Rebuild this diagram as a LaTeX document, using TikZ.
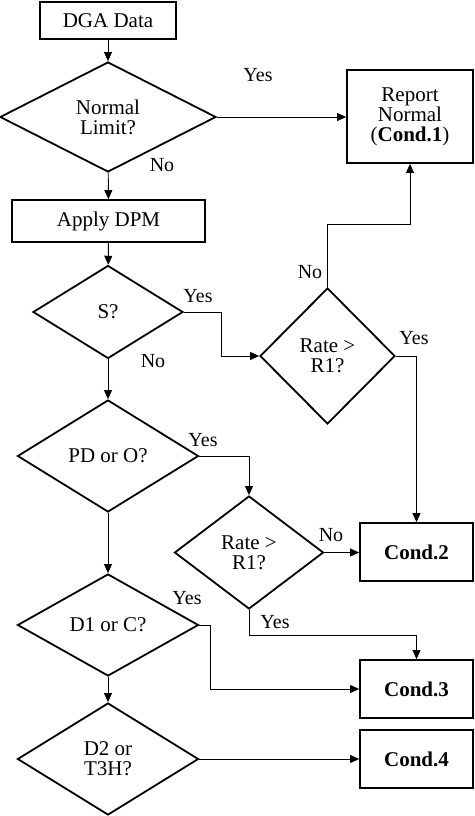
\documentclass[tikz,border=0pt]{standalone}
\usepackage{fontspec}
\setmainfont{Liberation Serif}
\usetikzlibrary{shapes.geometric,arrows.meta}
\tikzset{
  box/.style={draw,line width=1.8pt,rectangle,inner sep=0pt,align=center,font=\fontsize{21}{20}\selectfont},
  dia/.style={draw,line width=1.8pt,diamond,inner sep=0pt,align=center,font=\fontsize{21}{20}\selectfont},
  conn/.style={line width=0.9pt,-{Triangle[length=9pt,width=8pt]}},
  lbl/.style={font=\fontsize{20}{20}\selectfont,inner sep=0pt}
}
\begin{document}
\begin{tikzpicture}[x=1pt,y=-1pt]
\useasboundingbox (0,0) rectangle (474,816);
% nodes
\node[box,minimum width=136pt,minimum height=37pt] (dga) at (108,20.5) {DGA Data};
\node[dia,minimum width=216pt,minimum height=110pt] (nl) at (108,117) {Normal\\Limit?};
\node[box,minimum width=126pt,minimum height=93pt] (rep) at (410,116.5) {Report\\Normal\\(\textbf{Cond.1})};
\node[box,minimum width=193pt,minimum height=42pt] (dpm) at (108.5,221) {Apply DPM};
\node[dia,minimum width=150pt,minimum height=93pt] (s) at (108,312) {S?};
\node[dia,minimum width=135pt,minimum height=136pt] (r1) at (327.5,356) {Rate >\\R1?};
\node[dia,minimum width=181pt,minimum height=112pt] (pd) at (108,456) {PD or O?};
\node[dia,minimum width=149pt,minimum height=113pt] (r2) at (249,552.5) {Rate >\\R1?};
\node[box,minimum width=113pt,minimum height=58pt] (c2) at (416.5,552) {\textbf{Cond.2}};
\node[dia,minimum width=181pt,minimum height=102pt] (d1) at (108,625) {D1 or C?};
\node[box,minimum width=113pt,minimum height=58pt] (c3) at (416.5,689) {\textbf{Cond.3}};
\node[dia,minimum width=181pt,minimum height=112pt] (d2) at (108,759) {D2 or\\T3H?};
\node[box,minimum width=113pt,minimum height=58pt] (c4) at (416.5,759) {\textbf{Cond.4}};
% labels
\node[lbl] (y1) at (258,75) {Yes};
\node[lbl] (n1) at (162,165) {No};
\node[lbl] (y2) at (198,296) {Yes};
\node[lbl] (n2) at (153,361) {No};
\node[lbl] (n3) at (310,272) {No};
\node[lbl] (y3) at (414,338) {Yes};
\node[lbl] (y4) at (203,440) {Yes};
\node[lbl] (n4) at (331,535) {No};
\node[lbl] (y5) at (275,622) {Yes};
\node[lbl] (y6) at (187,598) {Yes};
% connectors
\draw[conn] (dga) -- (nl);
\draw[conn] (nl.east) -- (rep.west |- nl.east);
\draw[conn] (nl) -- (dpm);
\draw[conn] (dpm) -- (s);
\draw[conn] (s.east) -- ++(38,0) |- (r1.west);
\draw[conn] (r1.north) -- ++(0,-63) -| (rep.south);
\draw[conn] (r1.east) -| (c2.north);
\draw[conn] (s) -- (pd);
\draw[conn] (pd.east) -| (r2.north);
\draw[conn] (r2.east) -- (c2.west |- r2.east);
\draw[conn] (r2.south) -- ++(0,26) -| (c3.north);
\draw[conn] (pd) -- (d1);
\draw[conn] (d1.east) -- ++(11,0) |- (c3.west);
\draw[conn] (d1) -- (d2);
\draw[conn] (d2.east) -- (c4.west);
\end{tikzpicture}
\end{document}
